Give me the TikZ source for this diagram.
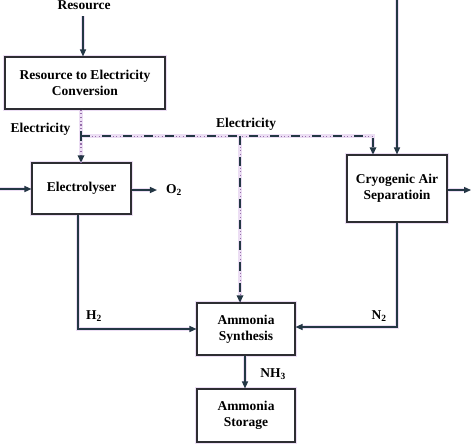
\documentclass[tikz,border=0pt]{standalone}
\usepackage{fontspec}
\setmainfont{Liberation Serif}
\usetikzlibrary{arrows.meta,calc}
\definecolor{ink}{RGB}{35,55,68}
\definecolor{boxink}{RGB}{45,45,50}
\definecolor{glowc}{RGB}{236,222,244}
\definecolor{dotc}{RGB}{150,110,170}
\tikzset{
  glow/.style={preaction={draw=glowc,line width=4pt}},
  pbox/.style={draw=boxink,line width=1.1pt,glow,fill=white,align=center,
    font=\bfseries\fontsize{13.5}{16}\selectfont,inner sep=0pt},
  lbl/.style={font=\bfseries\fontsize{13.5}{16}\selectfont,inner sep=0pt},
  flow/.style={draw=ink,line width=1.3pt,glow,-{Triangle[length=7pt,width=6pt]}},
  elecline/.style={line width=1.2pt,
    preaction={draw=glowc,line width=4pt},
    preaction={draw=dotc,line width=1pt,dash pattern=on 1pt off 2.5pt},
    draw=ink,dash pattern=on 9pt off 12pt},
  dotline/.style={line width=1.2pt,
    preaction={draw=glowc,line width=4pt},
    draw=dotc,dash pattern=on 1.2pt off 2.5pt}
}
\begin{document}
\begin{tikzpicture}[x=1pt,y=-1pt]
\useasboundingbox (0,0) rectangle (474,445);
% nodes
\node[lbl] (res) at (84,5.5) {Resource};
\node[pbox,minimum width=160pt,minimum height=52pt] (conv) at (85,83) {Resource to Electricity\\Conversion};
\node[pbox,minimum width=99pt,minimum height=51pt] (ely) at (81.5,188.5) {Electrolyser};
\node[pbox,minimum width=100pt,minimum height=67pt] (cas) at (397,188.5) {Cryogenic Air\\Separatioin};
\node[pbox,minimum width=98pt,minimum height=52pt] (syn) at (246,329) {Ammonia\\Synthesis};
\node[pbox,minimum width=98pt,minimum height=53pt] (sto) at (246,415.5) {Ammonia\\Storage};
\node[lbl] (o2) at (174,190) {O\textsubscript{2}};
\node[lbl] (el1) at (40.5,129) {Electricity};
\node[lbl] (el2) at (246,124) {Electricity};
\node[lbl] (h2) at (94,316) {H\textsubscript{2}};
\node[lbl] (n2) at (379,316) {N\textsubscript{2}};
\node[lbl] (nh3) at (273,374) {NH\textsubscript{3}};
% coordinates
\coordinate (rs) at (83,16);
\coordinate (j1) at (81,136);
\coordinate (j2) at (240,136);
\coordinate (j3) at (373,136);
\coordinate (ain) at (0,189);
\coordinate (cin) at (397,0);
\coordinate (cout) at (471,190);
\coordinate (hc) at (78,329);
\coordinate (nc) at (397,327);
\coordinate (sx) at (245,0);
% electricity lines
\draw[dotline] (conv.south -| j1) -- (j1);
\draw[dotline] (j1) -- (ely.north -| j1);
\draw[elecline] (j1) -- (j3) -- (cas.north -| j3);
\draw[elecline] (j2) -- (syn.north -| j2);
\fill[ink] (ely.north -| j1) -- ++(-3.5,-7) -- ++(7,0) -- cycle;
\fill[ink] (cas.north -| j3) -- ++(-3.5,-7) -- ++(7,0) -- cycle;
\fill[ink] (syn.north -| j2) -- ++(-3.5,-7) -- ++(7,0) -- cycle;
\draw[ink,line width=1.2pt] ($(j1)+(0,-5)$) -- ($(j1)+(0,5)$);
% flows
\draw[flow] (rs) -- (conv.north -| rs);
\draw[flow] (ain) -- (ely.west |- ain);
\draw[flow] (ely.east |- o2) -- ([xshift=-9pt]o2.west);
\draw[flow] (cin) -- (cas.north -| cin);
\draw[flow] (cas.east |- cout) -- (cout);
\draw[flow] (ely.south -| hc) -- (hc) -- (syn.west |- hc);
\draw[flow] (cas.south -| nc) -- (nc) -- (syn.east |- nc);
\draw[flow] (syn.south -| sx) -- (sto.north -| sx);
\end{tikzpicture}
\end{document}
